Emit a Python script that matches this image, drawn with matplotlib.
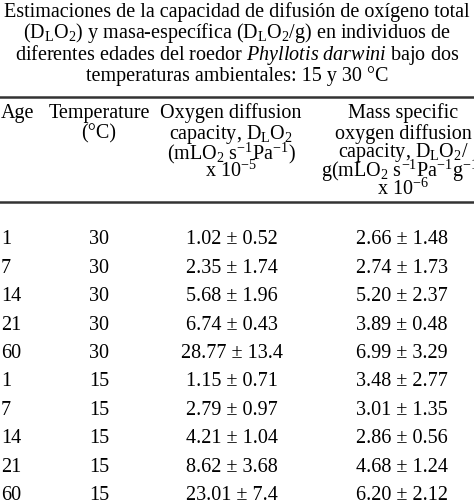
import matplotlib

matplotlib.use("Agg")
import matplotlib.pyplot as plt

plt.rcParams["font.family"] = ["Liberation Serif", "DejaVu Serif"]
plt.rcParams["mathtext.fontset"] = "custom"
plt.rcParams["mathtext.rm"] = "Liberation Serif"
plt.rcParams["mathtext.it"] = "Liberation Serif:italic"

ages = ["1", "7", "14", "21", "60", "1", "7", "14", "21", "60"]
temps = ["30", "30", "30", "30", "30", "15", "15", "15", "15", "15"]
dlo2 = ["1.02 ± 0.52", "2.35 ± 1.74", "5.68 ± 1.96", "6.74 ± 0.43", "28.77 ± 13.4",
        "1.15 ± 0.71", "2.79 ± 0.97", "4.21 ± 1.04", "8.62 ± 3.68", "23.01 ± 7.4"]
dlo2_g = ["2.66 ± 1.48", "2.74 ± 1.73", "5.20 ± 2.37", "3.89 ± 0.48", "6.99 ± 3.29",
          "3.48 ± 2.77", "3.01 ± 1.35", "2.86 ± 0.56", "4.68 ± 1.24", "6.20 ± 2.12"]

title_lines = [
    "Estimaciones de la capacidad de difusión de oxígeno total",
    "(D$_\\mathrm{L}$O$_2$) y masa-específica (D$_\\mathrm{L}$O$_2$/g) en individuos de",
    "diferentes edades del roedor $\\it{Phyllotis\\ darwini}$ bajo dos",
    "temperaturas ambientales: 15 y 30 °C",
]
headers = [
    (1, "left", ["Age"]),
    (99, "center", ["Temperature", "(°C)"]),
    (231, "center", ["Oxygen diffusion", "capacity, D$_\\mathrm{L}$O$_2$",
                     "(mLO$_2$ s$^{-1}$Pa$^{-1}$)", "x 10$^{-5}$"]),
    (403, "center", ["Mass specific", "oxygen diffusion", "capacity, D$_\\mathrm{L}$O$_2$/",
                     "g(mLO$_2$ s$^{-1}$Pa$^{-1}$g$^{-1}$)", "x 10$^{-6}$"]),
]
header_y = [113, 134, 153, 171, 189]

W, H = 474, 503
fig = plt.figure(figsize=(W / 100, H / 100), dpi=100)
ax = fig.add_axes([0, 0, 1, 1])
ax.set_xlim(0, W)
ax.set_ylim(H, 0)
ax.axis("off")

fs = 14.5
for i, line in enumerate(title_lines):
    ax.text(237, 12 + i * 21.3, line, ha="center", va="center", fontsize=fs)

ax.axhline(97, color="#333333", lw=1.8)
ax.axhline(202, color="#333333", lw=1.8)

for x, ha, lines in headers:
    for i, line in enumerate(lines):
        ax.text(x, header_y[i], line, ha=ha, va="center", fontsize=fs)

for i in range(len(ages)):
    y = 240 + i * 28.4
    ax.text(1, y, ages[i], ha="left", va="center", fontsize=fs)
    ax.text(99, y, temps[i], ha="center", va="center", fontsize=fs)
    ax.text(232, y, dlo2[i], ha="center", va="center", fontsize=fs)
    ax.text(402, y, dlo2_g[i], ha="center", va="center", fontsize=fs)

fig.savefig("out.png", dpi=100)
